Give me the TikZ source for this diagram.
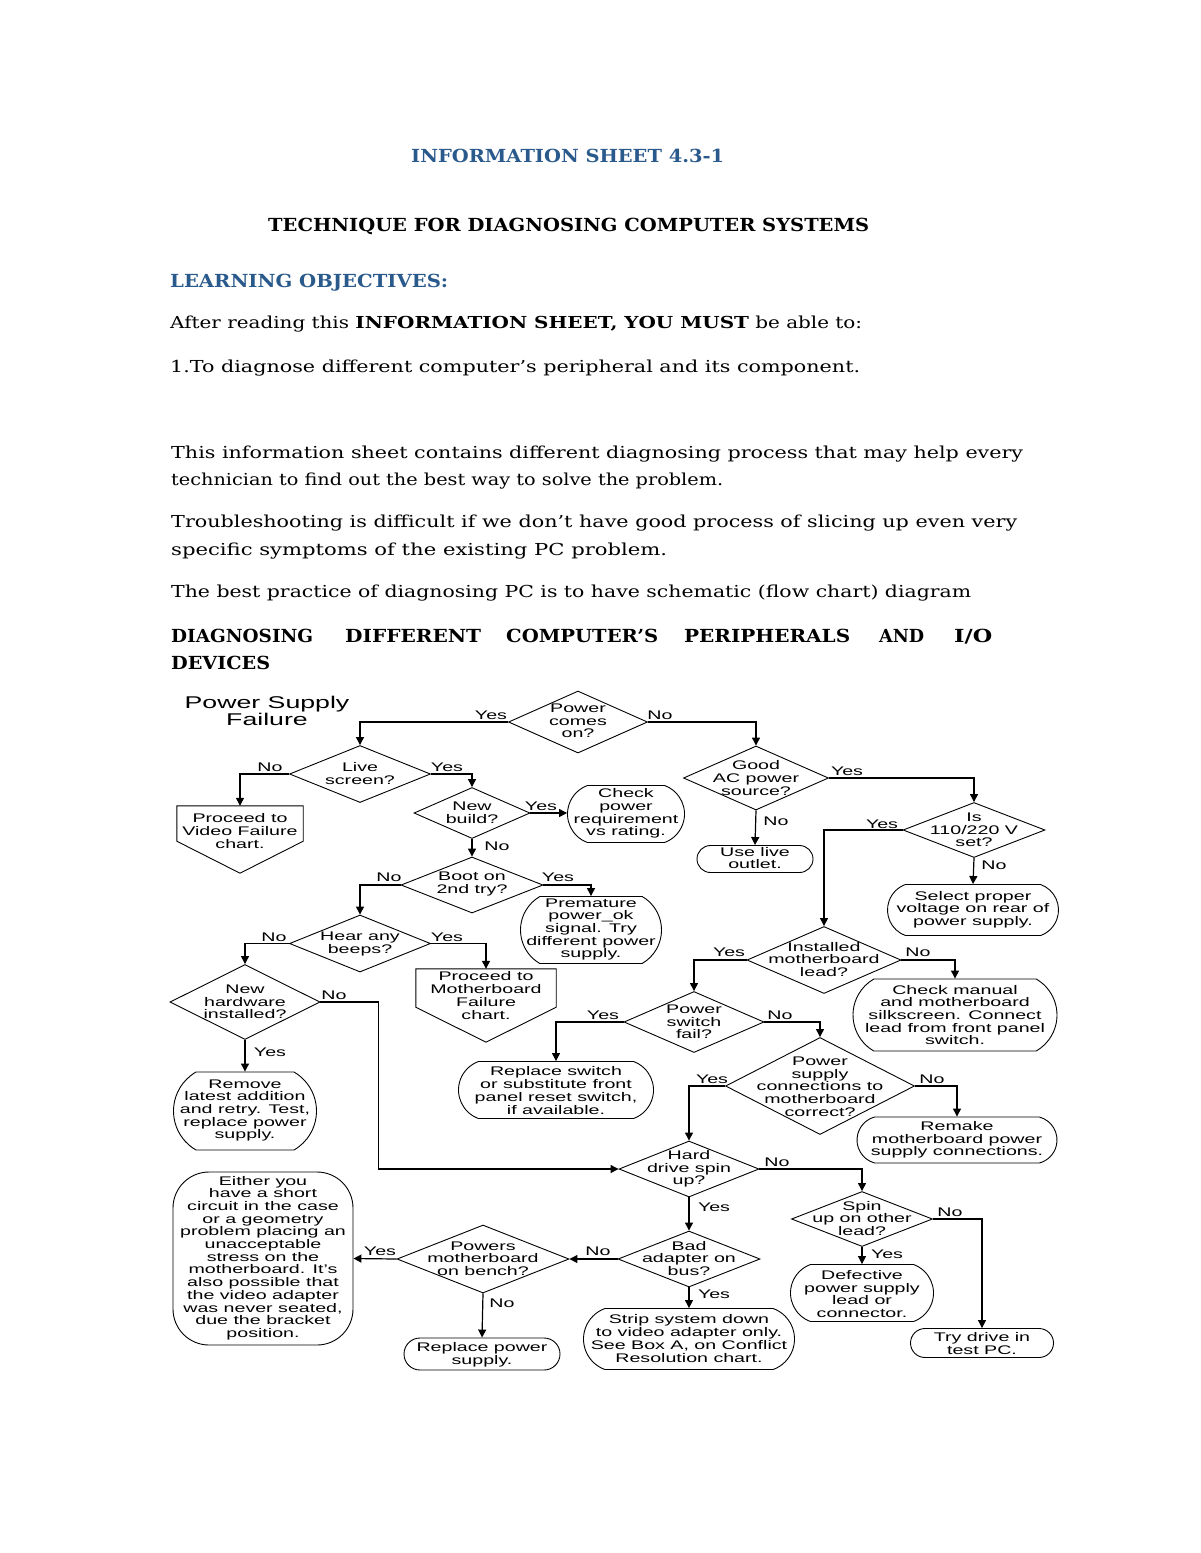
\documentclass[tikz,border=0pt]{standalone}
\usepackage{fontspec}
\usepackage{graphicx}
\usetikzlibrary{shapes.geometric,shapes.misc,arrows.meta,calc}
\newfontfamily\fcf[FakeStretch=1.57]{Liberation Sans}
\newfontfamily\bodyf{DejaVu Serif}
\definecolor{hblue}{HTML}{2A5A8C}
\newsavebox\fitbox
\newcommand\fitw[2]{\sbox\fitbox{#2}\pgfmathsetmacro\fitfac{#1/\the\wd\fitbox}\scalebox{\fitfac}[1]{\usebox\fitbox}}
\begin{document}
\begin{tikzpicture}[x=1pt,y=-1pt,
 body/.style={anchor=base west, inner sep=0, font=\bodyf\fontsize{16.5}{20}\selectfont},
 head/.style={anchor=base west, inner sep=0, font=\bodyf\bfseries\fontsize{18}{22}\selectfont},
 dia/.style={draw, diamond, inner sep=0, line width=0.9pt},
 term/.style={draw, rounded rectangle, inner sep=0, line width=0.9pt},
 shp/.style={draw, line width=0.9pt},
 txt/.style={font=\fcf\fontsize{12.5}{12.7}\selectfont, align=center, inner sep=0},
 lbl/.style={font=\fcf\fontsize{12.5}{12.7}\selectfont, inner sep=0},
 arr/.style={line width=1.2pt, -{Triangle[length=8pt,width=8pt]}}
]
\path[fill=white] (0,0) rectangle (1200,1553);
\useasboundingbox (0,0) rectangle (1200,1553);

% ---------- header text ----------
\node[head, text=hblue] (h1) at (411,162) {\fitw{313}{INFORMATION SHEET 4.3-1}};
\node[head] (h2) at (268,231) {\fitw{601}{TECHNIQUE FOR DIAGNOSING COMPUTER SYSTEMS}};
\node[head, text=hblue] (h3) at (170,287) {\fitw{278}{LEARNING OBJECTIVES:}};
\node[body] (b1) at (170,328) {\fitw{692}{After reading this \textbf{INFORMATION SHEET, YOU MUST} be able to:}};
\node[body] (b2) at (170,372) {\fitw{690}{1.To diagnose different computer’s peripheral and its component.}};
\node[body] (b3) at (171,458) {\fitw{852}{This information sheet contains different diagnosing process that may help every}};
\node[body] (b4) at (171,485) {\fitw{552}{technician to find out the best way to solve the problem.}};
\node[body] (b5) at (171,527) {\fitw{846}{Troubleshooting is difficult if we don’t have good process of slicing up even very}};
\node[body] (b6) at (171,555) {\fitw{496}{specific symptoms of the existing PC problem.}};
\node[body] (b7) at (171,597) {\fitw{800}{The best practice of diagnosing PC is to have schematic (flow chart) diagram}};
\node[head] (w1) at (171,642) {\fitw{142}{DIAGNOSING}};
\node[head] (w2) at (345,642) {\fitw{136}{DIFFERENT}};
\node[head] (w3) at (506,642) {\fitw{152}{COMPUTER’S}};
\node[head] (w4) at (684,642) {\fitw{166}{PERIPHERALS}};
\node[head] (w5) at (879,642) {\fitw{45}{AND}};
\node[head] (w6) at (954,642) {\fitw{38}{I/O}};
\node[head] (w7) at (171,669) {\fitw{99}{DEVICES}};

% ---------- title ----------
\node[font=\fcf\fontsize{17}{17}\selectfont, align=center, inner sep=0] (title) at (267,711) {Power Supply\\Failure};

% ---------- diamonds ----------
\node[dia, minimum width=139, minimum height=62] (pwr) at (578,722) {};
\node[txt] (pwrt) at (578,721) {Power\\comes\\on?};
\node[dia, minimum width=141, minimum height=57] (live) at (360,774) {};
\node[txt] (livet) at (360,773.5) {Live\\screen?};
\node[dia, minimum width=116, minimum height=51] (newb) at (472,813) {};
\node[txt] (newbt) at (472,813) {New\\build?};
\node[dia, minimum width=145, minimum height=64] (good) at (756,778) {};
\node[txt] (goodt) at (756,778) {Good\\AC power\\source?};
\node[dia, minimum width=142, minimum height=55] (is) at (974,830) {};
\node[txt] (ist) at (974,830) {Is\\110/220 V\\set?};
\node[dia, minimum width=142, minimum height=56] (boot) at (472,885) {};
\node[txt] (boott) at (472,884) {Boot on\\2nd try?};
\node[dia, minimum width=141, minimum height=57] (hear) at (360,943.5) {};
\node[txt] (heart) at (360,944) {Hear any\\beeps?};
\node[dia, minimum width=150, minimum height=75] (newhw) at (245,1002) {};
\node[txt] (newhwt) at (245,1002) {New\\hardware\\installed?};
\node[dia, minimum width=154, minimum height=67] (inst) at (824,960) {};
\node[txt] (instt) at (824,959.5) {Installed\\motherboard\\lead?};
\node[dia, minimum width=140, minimum height=61] (psw) at (694,1022) {};
\node[txt] (pswt) at (694,1022) {Power\\switch\\fail?};
\node[dia, minimum width=189, minimum height=97] (psc) at (820,1086) {};
\node[txt] (psct) at (820,1086.5) {Power\\supply\\connections to\\motherboard\\correct?};
\node[dia, minimum width=140, minimum height=56] (hard) at (689,1169) {};
\node[txt] (hardt) at (689,1169) {Hard\\drive spin\\up?};
\node[dia, minimum width=141, minimum height=55] (spin) at (862,1219) {};
\node[txt] (spint) at (862,1218.5) {Spin\\up on other\\lead?};
\node[dia, minimum width=142, minimum height=56] (bad) at (689,1259) {};
\node[txt] (badt) at (689,1258.5) {Bad\\adapter on\\bus?};
\node[dia, minimum width=172, minimum height=68] (powers) at (483,1259) {};
\node[txt] (powerst) at (483,1258.5) {Powers\\motherboard\\on bench?};

% ---------- pentagons ----------
\node[inner sep=0, minimum width=126, minimum height=35] (video) at (240,823.5) {};
\draw[shp] (video.north west) -- (video.north east) -- (video.south east) -- ($(video.south)+(0,32)$) -- (video.south west) -- cycle;
\node[txt] (videot) at (240,831) {Proceed to\\Video Failure\\chart.};
\node[inner sep=0, minimum width=140, minimum height=38] (procmb) at (486,988) {};
\draw[shp] (procmb.north west) -- (procmb.north east) -- (procmb.south east) -- ($(procmb.south)+(0,35)$) -- (procmb.south west) -- cycle;
\node[txt] (procmbt) at (486,995.5) {Proceed to\\Motherboard\\Failure\\chart.};

% ---------- terminals ----------
\node[term, rounded rectangle arc length=140, minimum width=117, minimum height=57] (check) at (626,814) {};
\node[txt] (checkt) at (626,813.5) {Check\\power\\requirement\\vs rating.};
\node[term, minimum width=116, minimum height=27] (uselive) at (755,859) {};
\node[txt] (uselivet) at (755,858) {Use live\\outlet.};
\node[term, rounded rectangle arc length=140, minimum width=171, minimum height=51] (select) at (973,910) {};
\node[txt] (selectt) at (973,909.5) {Select proper\\voltage on rear of\\power supply.};
\node[term, rounded rectangle arc length=120, minimum width=141, minimum height=67] (prem) at (591,930) {};
\node[txt] (premt) at (591,929.5) {Premature\\power\_ok\\signal. Try\\different power\\supply.};
\node[term, rounded rectangle arc length=120, minimum width=143, minimum height=78] (remove) at (245,1111) {};
\node[txt] (removet) at (245,1110.5) {Remove\\latest addition\\and retry. Test,\\replace power\\supply.};
\node[term, rounded rectangle arc length=120, minimum width=204, minimum height=72] (checkm) at (955,1015) {};
\node[txt] (checkmt) at (955,1015) {Check manual\\and motherboard\\silkscreen. Connect\\lead from front panel\\switch.};
\node[term, rounded rectangle arc length=140, minimum width=195, minimum height=57] (repsw) at (556,1090) {};
\node[txt] (repswt) at (556,1090.5) {Replace switch\\or substitute front\\panel reset switch,\\if available.};
\node[term, rounded rectangle arc length=150, minimum width=200, minimum height=46] (remake) at (957,1140) {};
\node[txt] (remaket) at (957,1140) {Remake\\motherboard power\\supply connections.};
\node[term, rounded rectangle arc length=140, minimum width=143, minimum height=57] (defect) at (862,1293) {};
\node[txt] (defectt) at (862,1294) {Defective\\power supply\\lead or\\connector.};
\node[term, minimum width=143, minimum height=29] (try) at (982,1343) {};
\node[txt] (tryt) at (982,1343.5) {Try drive in\\test PC.};
\node[term, rounded rectangle arc length=140, minimum width=211, minimum height=61] (strip) at (689,1339) {};
\node[txt] (stript) at (689,1338.5) {Strip system down\\to video adapter only.\\See Box A, on Conflict\\Resolution chart.};
\node[term, minimum width=156, minimum height=32] (reppow) at (482,1354) {};
\node[txt] (reppowt) at (482,1354.5) {Replace power\\supply.};
\node[draw, rectangle, rounded corners=36pt, line width=0.9pt, inner sep=0, minimum width=180, minimum height=173] (either) at (263,1258.5) {};
\node[txt] (eithert) at (263,1258) {Either you\\have a short\\circuit in the case\\or a geometry\\problem placing an\\unacceptable\\stress on the\\motherboard. It’s\\also possible that\\the video adapter\\was never seated,\\due the bracket\\position.};

% ---------- connectors ----------
\draw[arr] (pwr.west) -| (live.north);
\draw[arr] (pwr.east) -| (good.north);
\draw[arr] (live.west) -| (video.north);
\draw[arr] (live.east) -| (newb.north);
\draw[arr] (newb.east) -- (newb.east -| check.west);
\draw[arr] (newb.south) -- (boot.north);
\draw[arr] (boot.west) -| (hear.north);
\draw[arr] (boot.east) -| (prem.north);
\draw[arr] (hear.west) -| (newhw.north);
\draw[arr] (hear.east) -| (procmb.north);
\draw[arr] (newhw.east) -- ++(58,0) |- (hard.west);
\draw[arr] (newhw.south) -- (remove.north);
\draw[arr] (good.south) -- (uselive.north);
\draw[arr] (good.east) -| (is.north);
\draw[arr] (is.south) -- (select.north);
\draw[arr] (is.west) -| (inst.north);
\draw[arr] (inst.west) -| (psw.north);
\draw[arr] (inst.east) -| (checkm.north);
\draw[arr] (psw.west) -| (repsw.north);
\draw[arr] (psw.east) -| (psc.north);
\draw[arr] (psc.west) -| (hard.north);
\draw[arr] (psc.east) -| (remake.north);
\draw[arr] (hard.east) -| (spin.north);
\draw[arr] (hard.south) -- (bad.north);
\draw[arr] (spin.east) -| (try.north);
\draw[arr] (spin.south) -- (defect.north);
\draw[arr] (bad.west) -- (powers.east);
\draw[arr] (bad.south) -- (strip.north);
\draw[arr] (powers.west) -- (either.east);
\draw[arr] (powers.south) -- (reppow.north);

% ---------- labels ----------
\node[lbl] (l1) at (491,715) {Yes};
\node[lbl] (l2) at (660,715.5) {No};
\node[lbl] (l3) at (270,767.5) {No};
\node[lbl] (l4) at (447,767.5) {Yes};
\node[lbl] (l5) at (541,806) {Yes};
\node[lbl] (l6) at (497,846) {No};
\node[lbl] (l7) at (389,877.5) {No};
\node[lbl] (l8) at (558,877.5) {Yes};
\node[lbl] (l9) at (274,937.5) {No};
\node[lbl] (l10) at (447,937.5) {Yes};
\node[lbl] (l11) at (334,995) {No};
\node[lbl] (l12) at (270,1052) {Yes};
\node[lbl] (l13) at (847,771) {Yes};
\node[lbl] (l14) at (776,821) {No};
\node[lbl] (l15) at (882,824) {Yes};
\node[lbl] (l16) at (994,865) {No};
\node[lbl] (l17) at (729,952) {Yes};
\node[lbl] (l18) at (918,952) {No};
\node[lbl] (l19) at (603,1015.5) {Yes};
\node[lbl] (l20) at (780,1015.5) {No};
\node[lbl] (l21) at (712,1079.5) {Yes};
\node[lbl] (l22) at (932,1079.5) {No};
\node[lbl] (l23) at (777,1162.5) {No};
\node[lbl] (l24) at (714,1207) {Yes};
\node[lbl] (l25) at (950,1212.5) {No};
\node[lbl] (l26) at (887,1254) {Yes};
\node[lbl] (l27) at (598,1251) {No};
\node[lbl] (l28) at (714,1294) {Yes};
\node[lbl] (l29) at (380,1251) {Yes};
\node[lbl] (l30) at (502,1303) {No};
\end{tikzpicture}
\end{document}
